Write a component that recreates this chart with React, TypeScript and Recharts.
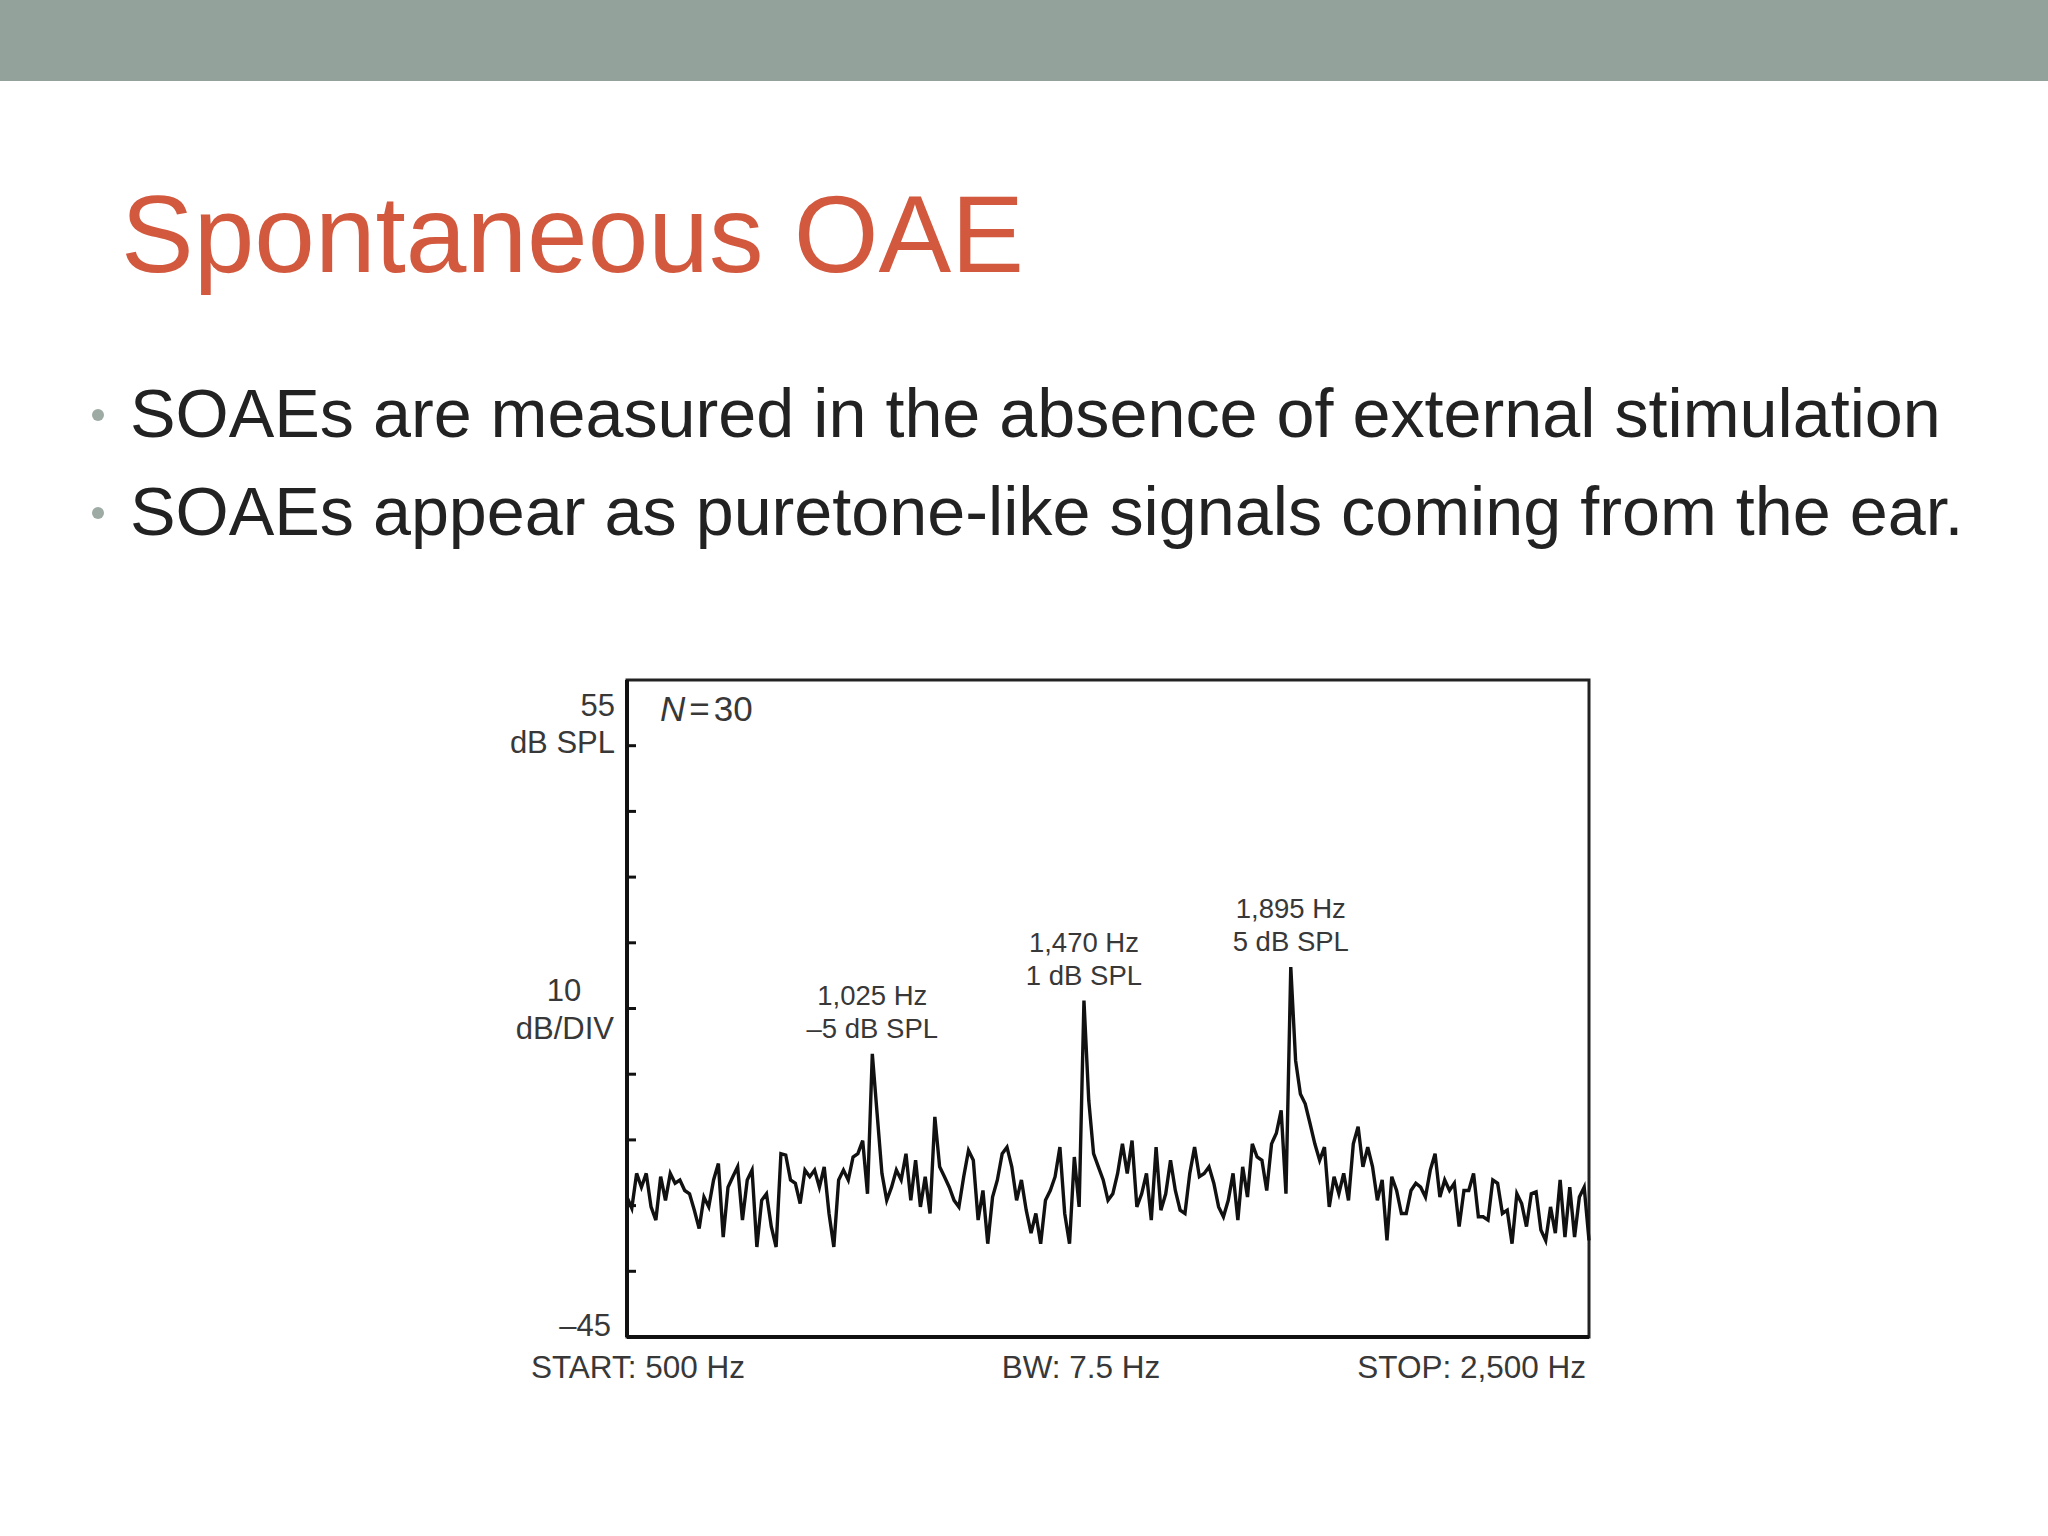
import React from 'react';
import { LineChart, Line, XAxis, YAxis, ReferenceArea, ReferenceDot } from 'recharts';

// analyzer sweep: 500 Hz to 2,500 Hz in 10 Hz bins
const START_HZ = 500;
const STEP_HZ = 10;

// measured level per bin, dB SPL
const SPL_DB = [
  -23.7, -25.4, -20.1, -22.2, -20.1, -25.2, -27.2, -20.6, -24.2, -20.1,
  -21.6, -21.1, -22.7, -23.2, -25.7, -28.5, -23.7, -25.2, -21.1, -18.6,
  -29.8, -22.2, -20.6, -19.1, -27.2, -21.1, -19.6, -31.3, -24.2, -23.2,
  -28.2, -31.3, -17.1, -17.3, -21.1, -21.6, -24.7, -19.6, -20.6, -19.6,
  -22.2, -19.1, -26.2, -31.3, -21.1, -19.6, -21.1, -17.6, -17.1, -15.1,
  -23.2, -1.9, -11.0, -20.1, -24.2, -22.2, -19.6, -21.1, -17.1, -24.2,
  -18.1, -25.2, -20.6, -26.2, -11.5, -19.1, -20.6, -22.2, -24.2, -25.2,
  -20.6, -16.6, -18.1, -27.2, -22.7, -30.8, -23.7, -21.1, -17.1, -16.1,
  -19.1, -24.2, -21.1, -25.7, -29.2, -26.2, -30.8, -24.2, -22.7, -20.6,
  -16.1, -26.2, -30.8, -17.6, -25.2, 6.2, -9.0, -17.1, -19.1, -21.1,
  -24.2, -23.2, -20.1, -15.6, -20.1, -15.1, -25.2, -23.2, -20.1, -27.2,
  -16.1, -25.7, -23.2, -18.1, -22.7, -25.7, -26.2, -20.1, -16.1, -20.6,
  -20.1, -19.1, -21.6, -25.2, -26.7, -24.2, -20.1, -27.2, -19.1, -23.7,
  -15.6, -17.6, -18.1, -22.7, -15.6, -14.0, -10.5, -23.2, 11.3, -2.9,
  -8.0, -9.5, -12.5, -15.6, -18.1, -16.1, -25.2, -20.6, -23.2, -20.1,
  -24.2, -15.6, -13.0, -19.1, -16.1, -19.1, -24.2, -21.1, -30.3, -20.6,
  -22.7, -26.2, -26.2, -22.7, -21.6, -22.2, -23.7, -19.6, -17.1, -23.7,
  -21.1, -22.7, -21.6, -28.2, -22.7, -22.7, -20.1, -26.7, -26.7, -27.2,
  -21.1, -21.6, -26.2, -25.7, -30.8, -23.2, -24.7, -28.2, -23.2, -22.9,
  -28.7, -30.3, -25.2, -29.2, -21.1, -29.8, -22.2, -29.8, -23.7, -22.2,
  -30.3,
];

// emission peaks and their annotations
const PEAK_HZ = [1010, 1450, 1880];
const PEAK_FREQ_TEXT = ['1,025 Hz', '1,470 Hz', '1,895 Hz'];
const PEAK_LEVEL_TEXT = ['\u20135 dB SPL', '1 dB SPL', '5 dB SPL'];

const Y_TICKS = [55, 45, 35, 25, 15, 5, -5, -15, -25, -35, -45];
const X_TICKS = [500, 1500, 2500];
const X_TICK_TEXT = ['START: 500 Hz', 'BW: 7.5 Hz', 'STOP: 2,500 Hz'];

const TITLE = 'Spontaneous OAE';
const BULLETS = [
  'SOAEs are measured in the absence of external stimulation',
  'SOAEs appear as puretone-like signals coming from the ear.',
];

const data = SPL_DB.map((db, i) => ({ hz: START_HZ + i * STEP_HZ, db }));

const FONT = '"Liberation Sans", Arial, sans-serif';
const INK = '#111';
const LABEL_INK = '#383838';

const YTick = ({ x, y, payload }: any) => {
  const v = payload.value;
  const txt = { fontFamily: FONT, fontSize: 31, fill: LABEL_INK } as const;
  return (
    <g>
      {v !== 55 && v !== -45 && (
        <line x1={x} y1={y} x2={x + 9} y2={y} stroke={INK} strokeWidth={3} />
      )}
      {v === 55 && (
        <>
          <text x={x - 12} y={y + 36} textAnchor="end" {...txt}>55</text>
          <text x={x - 12} y={y + 73} textAnchor="end" {...txt}>dB SPL</text>
        </>
      )}
      {v === 5 && (
        <>
          <text x={x - 63} y={y - 8} textAnchor="middle" {...txt}>10</text>
          <text x={x - 13} y={y + 30} textAnchor="end" {...txt}>dB/DIV</text>
        </>
      )}
      {v === -45 && (
        <text x={x - 16} y={y - 1} textAnchor="end" {...txt}>{'\u201345'}</text>
      )}
    </g>
  );
};

const XTick = ({ x, y, payload }: any) => {
  const i = X_TICKS.indexOf(payload.value);
  const anchor = i === 2 ? 'end' : 'middle';
  const dx = i === 0 ? 11 : i === 1 ? -27 : -3;
  return (
    <text x={x + dx} y={y + 41} textAnchor={anchor} fontFamily={FONT} fontSize={31.5} fill={LABEL_INK}>
      {X_TICK_TEXT[i]}
    </text>
  );
};

const SampleSizeLabel = ({ viewBox }: any) => (
  <text x={viewBox.x + 33} y={viewBox.y + 41} fontFamily={FONT} fontSize={35} fill={LABEL_INK}>
    <tspan fontStyle="italic">N</tspan>
    <tspan dx={4}>=</tspan>
    <tspan dx={4}>30</tspan>
  </text>
);

const peakLabel = (i: number) => ({ viewBox }: any) => (
  <g fontFamily={FONT} fontSize={27.5} fill={LABEL_INK} textAnchor="middle">
    <text x={viewBox.x} y={viewBox.y - 49}>{PEAK_FREQ_TEXT[i]}</text>
    <text x={viewBox.x} y={viewBox.y - 16}>{PEAK_LEVEL_TEXT[i]}</text>
  </g>
);

export default function App() {
  return (
    <div style={{ position: 'absolute', left: 0, top: 0, width: 2048, height: 1536, background: '#fff', overflow: 'hidden' }}>
      <svg width={2048} height={1536} style={{ position: 'absolute', left: 0, top: 0 }}>
        <rect x={0} y={0} width={2048} height={81} fill="#93a39b" />
        <text x={121} y={272} fontFamily={FONT} fontSize={109} fill="#d2583e">{TITLE}</text>
        {BULLETS.map((b, i) => (
          <g key={b}>
            <circle cx={98} cy={415 + i * 98} r={6} fill="#9eaba4" />
            <text x={130} y={437 + i * 98} fontFamily={FONT} fontSize={68.3} fill="#222">{b}</text>
          </g>
        ))}
      </svg>

      <div style={{ position: 'absolute', left: 400, top: 600 }}>
        <LineChart width={1300} height={850} data={data} margin={{ top: 80, right: 111, bottom: 53, left: 107 }}>
          <XAxis
            dataKey="hz"
            type="number"
            domain={[500, 2500]}
            ticks={X_TICKS}
            interval={0}
            tickSize={0}
            tickMargin={0}
            axisLine={{ stroke: INK, strokeWidth: 4 }}
            tick={<XTick />}
            height={60}
          />
          <YAxis
            type="number"
            domain={[-45, 55]}
            ticks={Y_TICKS}
            interval={0}
            tickSize={0}
            tickMargin={0}
            axisLine={{ stroke: INK, strokeWidth: 4 }}
            tick={<YTick />}
            width={120}
          />
          <ReferenceArea
            x1={500}
            x2={2500}
            y1={-45}
            y2={55}
            fill="none"
            stroke="#222"
            strokeWidth={3}
            ifOverflow="visible"
            label={(props: any) => <SampleSizeLabel {...props} />}
          />
          <Line
            type="linear"
            dataKey="db"
            stroke={INK}
            strokeWidth={3.4}
            dot={false}
            isAnimationActive={false}
          />
          {PEAK_HZ.map((hz, i) => (
            <ReferenceDot
              key={hz}
              x={hz}
              y={SPL_DB[(hz - START_HZ) / STEP_HZ]}
              r={0}
              fill="none"
              stroke="none"
              label={peakLabel(i)}
            />
          ))}
        </LineChart>
      </div>
    </div>
  );
}
